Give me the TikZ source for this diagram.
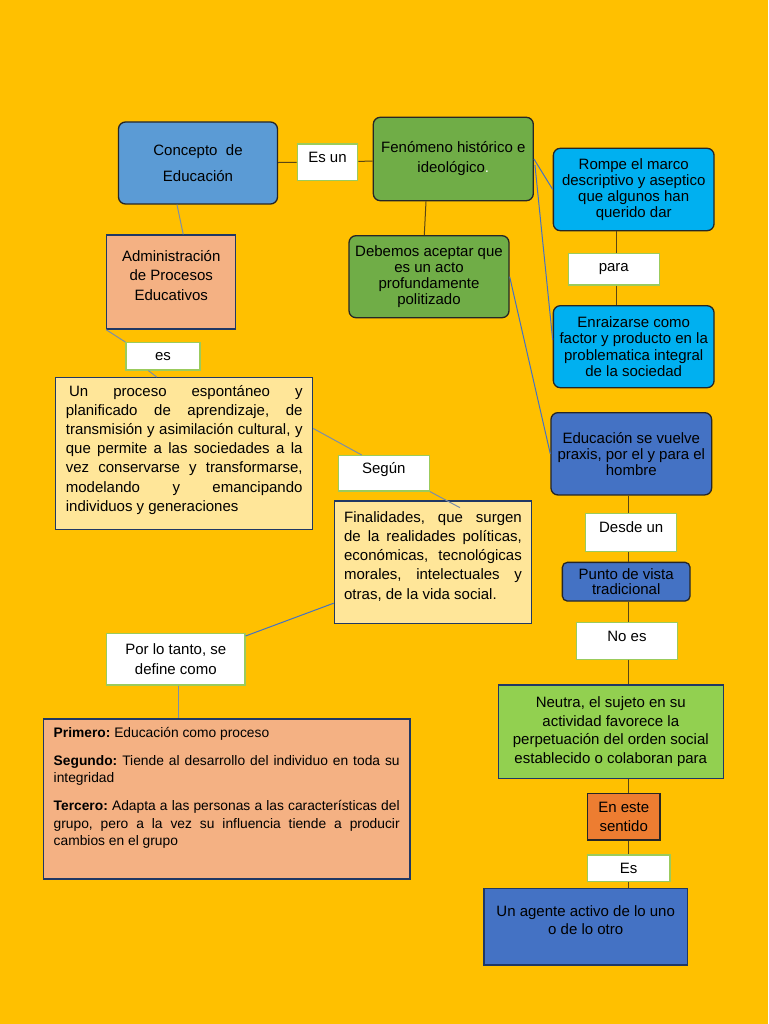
\documentclass[tikz,border=0pt]{standalone}
\usepackage{fontspec}
\setmainfont{Liberation Sans}
\usetikzlibrary{positioning}
\frenchspacing

\definecolor{fondo}{HTML}{FFC000}
\definecolor{azulcon}{HTML}{5B9BD5}
\definecolor{verde}{HTML}{70AD47}
\definecolor{celeste}{HTML}{00B0F0}
\definecolor{salmon}{HTML}{F4B183}
\definecolor{crema}{HTML}{FFE699}
\definecolor{azul}{HTML}{4472C4}
\definecolor{lima}{HTML}{92D050}
\definecolor{naranja}{HTML}{ED7D31}
\definecolor{marino}{HTML}{203864}
\definecolor{borde}{HTML}{9BCB5C}
\definecolor{oscuro}{HTML}{5A4614}
\definecolor{gris}{HTML}{7C8EA8}

\newcommand{\boxfont}[1]{\fontsize{15}{#1}\selectfont}

\tikzset{
  caja/.style={draw=black!85, line width=1.3pt, rounded corners=7pt, align=center, inner sep=2pt, font=\boxfont{16.2}},
  cuadro/.style={draw=marino, line width=1.3pt, align=center, inner sep=0pt, font=\boxfont{19.2}},
  enlace/.style={draw=borde, fill=white, line width=1.2pt, align=center, inner sep=2pt, font=\boxfont{19.2}},
  alto/.style={text height=11pt, text depth=11pt},
  linea/.style={draw=oscuro, line width=1pt},
  azulado/.style={draw=azul, line width=1pt},
  grisaceo/.style={draw=gris, line width=1pt},
}

\begin{document}
\begin{tikzpicture}[x=1pt, y=-1pt]
  \fill[fondo] (0,0) rectangle (768,1024);

  % upper part
  \node[caja, fill=azulcon, minimum width=159pt, minimum height=82pt, font=\boxfont{26}] (concepto) at (198,163) {Concepto~ de\\Educación};
  \node[enlace, alto, minimum width=60.4pt, minimum height=36.3pt] (esun) at (327.5,162.2) {Es un};
  \node[caja, fill=verde, minimum width=160pt, minimum height=83.4pt, font=\boxfont{20}] (fenomeno) at (453.3,159) {Fenómeno histórico e\\ideológico{\color{white}.}};
  \node[caja, fill=celeste, minimum width=160.7pt, minimum height=82.4pt] (rompe) at (633.7,189.5) {Rompe el marco\\descriptivo y aseptico\\que algunos han\\querido dar};
  \node[enlace, minimum width=91pt, minimum height=31.7pt] (para) at (613.8,269.2) {para};
  \node[caja, fill=celeste, minimum width=160.7pt, minimum height=82pt] (enraizarse) at (633.7,346.7) {Enraizarse como\\factor y producto en la\\problematica integral\\de la sociedad};
  \node[caja, fill=verde, minimum width=160pt, minimum height=82pt] (debemos) at (429,276.7) {Debemos aceptar que\\es un acto\\profundamente\\politizado};

  % left column
  \node[cuadro, fill=salmon, minimum width=129pt, minimum height=94pt] (admin) at (171.2,282)
    {\parbox[c][94pt][t]{125pt}{\centering\boxfont{19.2}\vspace*{13.2pt}\strut Administración\\de Procesos\\Educativos}};
  \node[enlace, minimum width=74pt, minimum height=27.3pt] (es) at (163,356.3) {es};
  \node[cuadro, fill=crema, minimum width=257pt, minimum height=151.6pt] (proceso) at (184.2,453.5)
    {\parbox[c][151.6pt][t]{236.7pt}{\boxfont{19.1}\tolerance=10000\vspace*{5.5pt}\strut\hspace{3.3pt}Un proceso espontáneo y\linebreak
     planificado de aprendizaje, de\linebreak transmisión y asimilación cultural, y\linebreak
     que permite a las sociedades a la\linebreak vez conservarse y transformarse,\linebreak
     modelando y emancipando\linebreak individuos y generaciones}};
  \node[enlace, alto, minimum width=91pt, minimum height=35.3pt] (segun) at (383.8,473.3) {Según};
  \node[cuadro, fill=crema, minimum width=197.4pt, minimum height=122.3pt] (finalidades) at (433,562.2)
    {\parbox[c][122.3pt][t]{177.7pt}{\boxfont{19.2}\tolerance=10000\vspace*{7.8pt}\strut Finalidades, que surgen\linebreak
     de la realidades políticas,\linebreak económicas, tecnológicas\linebreak
     morales, intelectuales y\linebreak otras, de la vida social.}};
  \node[enlace, minimum width=138.3pt, minimum height=51.7pt, font=\boxfont{19.3}] (portanto) at (175.8,659.2) {Por lo tanto, se\\define como};
  \node[cuadro, fill=salmon, minimum width=366.7pt, minimum height=160pt] (primero) at (226.7,799)
    {\parbox[c][160pt][t]{346pt}{\fontsize{13.8}{17.5}\selectfont\tolerance=10000\vspace*{6pt}\strut
     \textbf{Primero:} Educación como proceso\setlength{\parskip}{10.5pt}\par
     \textbf{Segundo:} Tiende al desarrollo del individuo en toda su\linebreak integridad\par
     \textbf{Tercero:} Adapta a las personas a las características del\linebreak
     grupo, pero a la vez su influencia tiende a producir\linebreak cambios en el grupo}};

  % right column
  \node[caja, fill=azul, minimum width=160.7pt, minimum height=82.3pt] (praxis) at (631.3,453.8) {Educación se vuelve\\praxis, por el y para el\\hombre};
  \node[enlace, alto, minimum width=91pt, minimum height=38.4pt] (desde) at (631.2,532.5) {Desde un};
  \node[caja, fill=azul, rounded corners=5pt, minimum width=127.7pt, minimum height=38.7pt, font=\boxfont{15.7}] (punto) at (626.2,581.7) {Punto de vista\\tradicional};
  \node[enlace, alto, minimum width=100.6pt, minimum height=36.6pt] (noes) at (627,641) {No es};
  \node[cuadro, fill=lima, minimum width=225pt, minimum height=93.3pt, font=\boxfont{18.8}] (neutra) at (610.8,731.7) {Neutra, el sujeto en su\\actividad favorece la\\perpetuación del orden social\\establecido o colaboran para};
  \node[cuadro, draw=black!85, fill=naranja, minimum width=72.7pt, minimum height=46.7pt, font=\boxfont{19}] (eneste) at (623.7,816.7) {En este\\sentido};
  \node[enlace, minimum width=82.7pt, minimum height=26.7pt] (esfin) at (628.7,868.3) {Es};
  \node[cuadro, fill=azul, minimum width=203.3pt, minimum height=76.7pt] (agente) at (585.7,926.7)
    {\parbox[c][76.7pt][t]{200pt}{\centering\boxfont{18}\vspace*{15.7pt}\strut Un agente activo de lo uno\\o de lo otro}};

  \coordinate (eje) at (628,0);

  \begin{scope}[linea]
    \draw (concepto) -- (esun);
    \draw (esun) -- (fenomeno);
    \draw ([xshift=-27.3pt]fenomeno.south) -- ([xshift=-4.7pt]debemos.north);
    \draw ([xshift=-17pt]rompe.south) -- ([xshift=2.9pt]para.north);
    \draw ([xshift=2.9pt]para.south) -- ([xshift=-17pt]enraizarse.north);
    \draw (praxis.south -| eje) -- (desde.north -| eje);
    \draw (desde.south -| eje) -- (punto.north -| eje);
    \draw (punto.south -| eje) -- (noes.north -| eje);
    \draw (noes.south -| eje) -- (neutra.north -| eje);
    \draw (neutra.south -| eje) -- (eneste.north -| eje);
    \draw (eneste.south -| eje) -- (esfin.north -| eje);
    \draw (esfin.south -| eje) -- (agente.north -| eje);
  \end{scope}
  \begin{scope}[azulado]
    \draw (fenomeno.east) -- (rompe.west);
    \draw ([xshift=1pt,yshift=-6pt]fenomeno.east) -- ([yshift=6.7pt]enraizarse.west);
    \draw (debemos.east) -- (praxis.west);
    \draw ([yshift=-41pt]finalidades.west) -- ([yshift=23.2pt]portanto.east);
  \end{scope}
  \begin{scope}[grisaceo]
    \draw ([xshift=-21pt]concepto.south) -- ([xshift=12pt]admin.north);
    \draw (admin.south west) -- (es.north west);
    \draw ([xshift=-14.7pt]es.south) -- ([xshift=-27.5pt]proceso.north);
    \draw ([yshift=25pt]proceso.east) -- ([xshift=-22pt]segun.north);
    \draw (segun.south east) -- ([xshift=27pt,yshift=-7.3pt]finalidades.north);
    \draw ([xshift=2.5pt]portanto.south) -- ([xshift=-48.4pt]primero.north);
  \end{scope}
\end{tikzpicture}
\end{document}
